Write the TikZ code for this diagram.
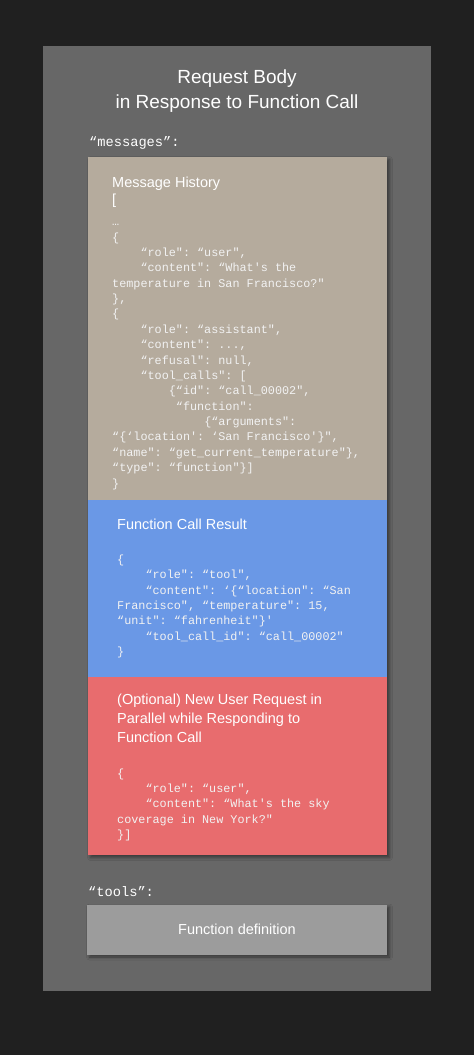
\documentclass[tikz,border=0pt]{standalone}
\usepackage{fontspec}
\setmainfont{Liberation Sans}
\setsansfont{Liberation Sans}
\setmonofont{Liberation Mono}
\usetikzlibrary{shadows.blur}
\definecolor{bgdark}{HTML}{202020}
\definecolor{panel}{HTML}{676767}
\definecolor{tanbox}{HTML}{B5AB9D}
\definecolor{bluebox}{HTML}{6A98E6}
\definecolor{redbox}{HTML}{E86C6E}
\definecolor{fdefbox}{HTML}{9C9C9C}
\definecolor{txt}{HTML}{FFFFFF}
\definecolor{codetxt}{HTML}{F2F2F2}
\newcommand\ind[1]{\hspace*{#1\fontcharwd\font`\x}}
\begin{document}
\begin{tikzpicture}[x=1pt,y=-1pt,
  titletext/.style={font=\fontsize{19}{25}\selectfont, text=txt, inner sep=0pt, anchor=base},
  headtext/.style={font=\fontsize{14.5}{19}\selectfont, text=txt, inner sep=0pt, anchor=base west, align=left},
  codetext/.style={font=\fontsize{11.8}{15.375}\selectfont\ttfamily, text=codetxt, inner sep=0pt, anchor=base west, align=left},
  keytext/.style={font=\fontsize{13.7}{16}\selectfont\ttfamily, text=txt, inner sep=0pt, anchor=base west},
  boxshadow/.style={blur shadow={shadow xshift=2.5pt, shadow yshift=-2.5pt, shadow blur radius=3pt, shadow opacity=45}}
]
\fill[bgdark] (0,0) rectangle (474,1055);
\useasboundingbox (0,0) rectangle (474,1055);
% outer panel
\fill[panel] (43,46) rectangle (431,991);
% title
\node[titletext] (title1) at (237,83.5) {Request Body};
\node[titletext] (title2) at (237,108) {in Response to Function Call};
\node[keytext] (messages) at (89,146) {“messages”:};
% message column
\path[boxshadow, fill=tanbox] (88,157) rectangle (387,855);
\fill[tanbox] (88,157) rectangle (387,500);
\fill[bluebox] (88,500) rectangle (387,677);
\fill[redbox] (88,677) rectangle (387,855);
% message history (multi-line nodes: base = baseline of last line)
\node[headtext] (histhead) at (112,187.3) {Message History};
\node[headtext] (histbracket) at (112,204.5) {[};
\node[codetext] (histcode) at (112,487) {…\\
\{\\
\ind4“role": “user",\\
\ind4“content": “What's the\\
temperature in San Francisco?"\\
\},\\
\{\\
\ind4“role": “assistant",\\
\ind4“content": ...,\\
\ind4“refusal": null,\\
\ind4“tool\_calls": [\\
\ind8\{“id": “call\_00002",\\
\ind9“function":\\
\ind{13}\{“arguments":\\
“\{‘location': ‘San Francisco'\}",\\
“name": “get\_current\_temperature"\},\\
“type": “function"\}]\\
\}};
% function call result
\node[headtext] (reshead) at (117,529.3) {Function Call Result};
\node[codetext] (rescode) at (117,655.5) {\{\\
\ind4“role": “tool",\\
\ind4“content": ‘\{“location": “San\\
Francisco", “temperature": 15,\\
“unit": “fahrenheit"\}'\\
\ind4“tool\_call\_id": “call\_00002"\\
\}};
% optional new user request
\node[headtext] (newhead) at (117,742.3) {(Optional) New User Request in\\Parallel while Responding to\\Function Call};
\node[codetext] (newcode) at (117,838.5) {\{\\
\ind4“role": “user",\\
\ind4“content": “What's the sky\\
coverage in New York?"\\
\}]};
% tools
\node[keytext] (tools) at (88,896) {“tools”:};
\node[boxshadow, fill=fdefbox, minimum width=300pt, minimum height=50pt, inner sep=0pt,
  font=\fontsize{14.5}{19}\selectfont, text=txt] (fdef) at (237,929.5) {Function definition};
\end{tikzpicture}
\end{document}
